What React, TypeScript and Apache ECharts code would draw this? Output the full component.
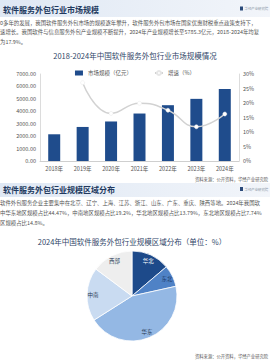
import React, { useEffect, useRef } from 'react';
import * as echarts from 'echarts';

const years = ['2018年', '2019年', '2020年', '2021年', '2022年', '2023年', '2024年'];
const marketSize = [2150, 2740, 3180, 3820, 4490, 5000, 5785.3];
const growthRate = [null, 27.0, 16.4, 19.9, 17.5, 11.8, 16.2];

const regions = ['华北', '东北', '华东', '中南', '西部'];
const regionShare = [13.79, 7.74, 44.47, 19.2, 14.8];
const regionColors = ['#1d4a8a', '#4f82c6', '#94b8e4', '#c9dbf1', '#eeeeee'];
const regionLabelColors = ['#ffffff', '#1d3a66', '#2a3a55', '#2a3a55', '#2a3a55'];

const heading1 = '软件服务外包行业市场规模';
const heading2 = '软件服务外包行业规模区域分布';
const para1 = [
  '0多年的发展，我国软件服务外包市场的规模逐年攀升，软件服务外包市场在国家优惠财税重点政策支持下，',
  '速增长。我国软件与信息服务外包产业规模不断提升，2024年产业规模增长至5785.3亿元，2018-2024年均复',
  '为17.9%。',
];
const para2 = [
  '软件外包服务企业主要集中在北京、辽宁、上海、江苏、浙江、山东、广东、重庆、陕西等地。2024年我国软',
  '中华东地区规模占比44.47%，中南地区规模占比19.2%，华北地区规模占比13.79%，东北地区规模占比7.74%',
  '区规模占比14.8%。',
];
const barTitle = '2018-2024年中国软件服务外包行业市场规模情况';
const pieTitle = '2024年中国软件服务外包行业规模区域分布（单位：%）';
const sourceText = '资料来源：公开资料，华经产业研究院';
const brandText = '华经产业研究院';
const legendNames = ['市场规模（亿元）', '增速（%）'];

const FONT = '"Noto Sans CJK SC", "Noto Sans", sans-serif';

export default function App() {
  const ref = useRef<HTMLDivElement>(null);
  useEffect(() => {
    document.body.style.margin = '0';
    const chart = echarts.init(ref.current!, undefined, { renderer: 'svg' });

    const txt = (text: string, x: number, y: number, size: number, fill: string, extra: any = {}) => ({
      type: 'text',
      x,
      y,
      style: {
        text,
        fill,
        fontSize: size,
        fontFamily: FONT,
        verticalAlign: 'middle',
        textAlign: 'left',
        ...extra,
      },
    });

    const band = (y: number, h: number) => ({
      type: 'rect',
      shape: { x: 0, y, width: 270, height: h },
      style: {
        fill: new echarts.graphic.LinearGradient(0, 0, 1, 0, [
          { offset: 0, color: '#dfe8f4' },
          { offset: 1, color: '#f2f5fa' },
        ]),
      },
    });

    const graphics: any[] = [
      band(0, 17),
      band(183, 14),
      txt(heading1, 3, 9.3, 8, '#22395e', { fontWeight: 'bold' }),
      txt(heading2, 3, 189.5, 8, '#22395e', { fontWeight: 'bold' }),
      { type: 'rect', shape: { x: 240, y: 6.5, width: 3, height: 4 }, style: { fill: '#2b4a7a' } },
      txt(brandText, 244.5, 8.5, 3.4, '#8a94a6'),
      { type: 'rect', shape: { x: 240, y: 187, width: 3, height: 4 }, style: { fill: '#2b4a7a' } },
      txt(brandText, 244.5, 189, 3.4, '#8a94a6'),
      txt(barTitle, 135, 55, 7.5, '#2f4668', { textAlign: 'center' }),
      txt(pieTitle, 132, 241.7, 7.5, '#2f4668', { textAlign: 'center' }),
      txt(sourceText, 195, 179, 4.3, '#555'),
      txt(sourceText, 195, 356, 4.3, '#555'),
    ];
    const p1y = [22.7, 32.3, 41.7];
    para1.forEach((t, i) => graphics.push(txt(t, 0, p1y[i], 5.4, '#555')));
    const p2y = [203.3, 213.3, 222.7];
    para2.forEach((t, i) => graphics.push(txt(t, 0, p2y[i], 5.4, '#555')));

    const pieData = regions.map((name, i) => ({
      name,
      value: regionShare[i],
      itemStyle: { color: regionColors[i] },
    }));
    const pieLabelData = regions.map((name, i) => ({
      name,
      value: regionShare[i],
      label: { color: regionLabelColors[i] },
    }));

    chart.setOption({
      animation: false,
      backgroundColor: '#ffffff',
      textStyle: { fontFamily: FONT },
      graphic: graphics,
      legend: {
        data: [
          { name: legendNames[0], icon: 'rect' },
          { name: legendNames[1] },
        ],
        top: 65,
        left: 'center',
        itemWidth: 8,
        itemHeight: 5,
        itemGap: 22,
        textStyle: { fontSize: 5.5, color: '#555', fontFamily: FONT },
      },
      grid: { left: 40, top: 74, width: 199, height: 87, containLabel: false },
      xAxis: {
        type: 'category',
        data: years,
        axisLine: { lineStyle: { color: '#cfcfcf' } },
        axisTick: { show: false },
        axisLabel: { fontSize: 5.5, color: '#555', margin: 5, fontFamily: FONT },
      },
      yAxis: [
        {
          type: 'value',
          min: 0,
          max: 7000,
          interval: 1000,
          axisLine: { show: true, lineStyle: { color: '#dcdcdc' } },
          axisTick: { show: false },
          splitLine: { show: false },
          axisLabel: {
            fontSize: 5.5,
            color: '#555',
            margin: 4,
            fontFamily: FONT,
            formatter: (v: number) => v.toFixed(2),
          },
        },
        {
          type: 'value',
          min: 0,
          max: 30,
          interval: 5,
          position: 'right',
          axisLine: { show: true, lineStyle: { color: '#dcdcdc' } },
          axisTick: { show: false },
          splitLine: { show: false },
          axisLabel: { fontSize: 5.5, color: '#555', margin: 4, fontFamily: FONT, formatter: '{value}%' },
        },
      ],
      series: [
        {
          name: legendNames[0],
          type: 'bar',
          data: marketSize,
          barWidth: 12,
          itemStyle: { color: '#1f4c8c' },
        },
        {
          name: legendNames[1],
          type: 'line',
          yAxisIndex: 1,
          data: growthRate,
          smooth: true,
          symbol: 'circle',
          symbolSize: 4,
          showSymbol: true,
          lineStyle: { color: '#d2d2d2', width: 1.5 },
          itemStyle: { color: '#ffffff', borderColor: '#e6e6e6', borderWidth: 0.5 },
        },
        {
          type: 'pie',
          center: [132, 296],
          radius: [0, 45],
          startAngle: 90,
          clockwise: true,
          data: pieData,
          label: { show: false },
          labelLine: { show: false },
          itemStyle: { borderColor: '#ffffff', borderWidth: 0.8 },
          silent: true,
        },
        {
          type: 'pie',
          center: [132, 296],
          radius: [27, 45],
          startAngle: 90,
          clockwise: true,
          data: pieLabelData,
          itemStyle: { color: 'rgba(0,0,0,0)' },
          label: { show: true, position: 'inside', fontSize: 5.5, fontFamily: FONT },
          labelLine: { show: false },
          silent: true,
        },
      ],
    });
    return () => chart.dispose();
  }, []);
  return <div ref={ref} style={{ position: 'fixed', left: 0, top: 0, width: 270, height: 360 }} />;
}
